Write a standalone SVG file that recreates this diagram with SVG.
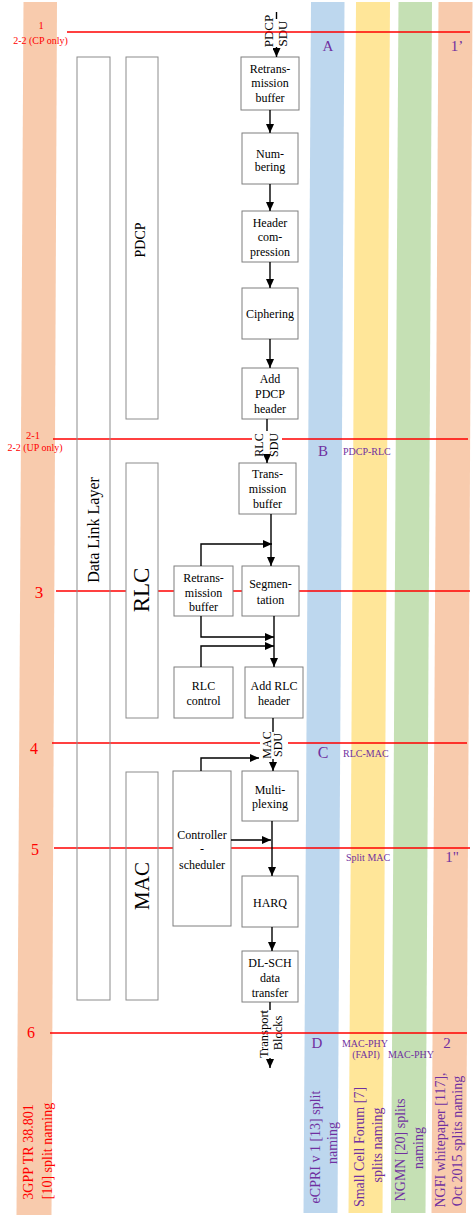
<svg xmlns="http://www.w3.org/2000/svg" width="474" height="1219" viewBox="0 0 474 1219">
<defs>
<style>
.t{font-family:"Liberation Serif","Times New Roman",serif;fill:#000}
.bx{fill:#fff;stroke:#7f7f7f;stroke-width:1}
.ly{fill:none;stroke:#8c8c8c;stroke-width:1}
.red{stroke:#ff0000;stroke-width:1.6;fill:none}
.rt{font-family:"Liberation Serif","Times New Roman",serif;fill:#ff0000}
.pt{font-family:"Liberation Serif","Times New Roman",serif;fill:#7030a0}
.c{stroke:#000;stroke-width:1.4;fill:none}
.a{marker-end:url(#ah)}
</style>
<marker id="ah" markerUnits="userSpaceOnUse" markerWidth="10" markerHeight="8" refX="9" refY="4" orient="auto">
<path d="M0,0 L9,4 L0,8 z" fill="#000"/>
</marker>
</defs>
<rect width="474" height="1219" fill="#fff"/>
<g id="bands">
<polygon points="23.5,2 57,2 51.5,1215 16.5,1215" fill="#f8cbad"/>
<polygon points="311,2 344.5,2 337.5,1213 303.5,1213" fill="#bdd7ee"/>
<polygon points="356,2 390,2 382.5,1213 348.5,1213" fill="#ffe699"/>
<polygon points="398.5,2 432,2 425.5,1213 391,1213" fill="#c5e0b4"/>
<polygon points="438.5,2 472.5,2 466,1213 431.5,1213" fill="#f8cbad"/>
</g>
<g id="band-labels">
<text class="rt" font-size="14" text-anchor="middle" transform="translate(32.5,1152) rotate(-90)">3GPP TR 38.801</text>
<text class="rt" font-size="14" text-anchor="middle" transform="translate(51.5,1151) rotate(-90)">[10] split naming</text>
<text class="pt" font-size="14" text-anchor="middle" transform="translate(319.5,1147) rotate(-90)">eCPRI v 1 [13] split</text>
<text class="pt" font-size="14" text-anchor="middle" transform="translate(336.5,1143) rotate(-90)">naming</text>
<text class="pt" font-size="14" text-anchor="middle" transform="translate(363.5,1147) rotate(-90)">Small Cell Forum [7]</text>
<text class="pt" font-size="14" text-anchor="middle" transform="translate(381.5,1145) rotate(-90)">splits naming</text>
<text class="pt" font-size="14" text-anchor="middle" transform="translate(404.5,1150) rotate(-90)">NGMN [20] splits</text>
<text class="pt" font-size="14" text-anchor="middle" transform="translate(422.5,1148) rotate(-90)">naming</text>
<text class="pt" font-size="14" text-anchor="middle" transform="translate(444.5,1140) rotate(-90)">NGFI whitepaper [117],</text>
<text class="pt" font-size="14" text-anchor="middle" transform="translate(461.5,1141) rotate(-90)">Oct 2015 splits naming</text>
</g>
<g id="split-labels">
<text class="rt" font-size="10.5" text-anchor="middle" x="41" y="29">1</text>
<text class="rt" font-size="10" text-anchor="middle" x="40.5" y="43.5">2-2 (CP only)</text>
<text class="rt" font-size="10.5" text-anchor="middle" x="33" y="438.5">2-1</text>
<text class="rt" font-size="10" text-anchor="middle" x="35" y="450.5">2-2 (UP only)</text>
<text class="rt" font-size="17" text-anchor="middle" x="39" y="598">3</text>
<text class="rt" font-size="16" text-anchor="middle" x="34" y="754">4</text>
<text class="rt" font-size="16" text-anchor="middle" x="35" y="855">5</text>
<text class="rt" font-size="16" text-anchor="middle" x="31" y="1038">6</text>
<text class="pt" font-size="15" text-anchor="middle" x="328" y="51">A</text>
<text class="pt" font-size="15" text-anchor="middle" x="457" y="51">1’</text>
<text class="pt" font-size="15" text-anchor="middle" x="323" y="456">B</text>
<text class="pt" font-size="10" x="343" y="455">PDCP-RLC</text>
<text class="pt" font-size="16" text-anchor="middle" x="323" y="758">C</text>
<text class="pt" font-size="10" x="343" y="757">RLC-MAC</text>
<text class="pt" font-size="10" x="346" y="861">Split MAC</text>
<text class="pt" font-size="15" text-anchor="middle" x="452" y="862">1"</text>
<text class="pt" font-size="15" text-anchor="middle" x="317" y="1048">D</text>
<text class="pt" font-size="10" text-anchor="middle" x="365" y="1047">MAC-PHY</text>
<text class="pt" font-size="10" text-anchor="middle" x="366" y="1058">(FAPI)</text>
<text class="pt" font-size="10" text-anchor="middle" x="411" y="1058">MAC-PHY</text>
<text class="pt" font-size="15" text-anchor="middle" x="447" y="1048">2</text>
</g>
<g id="sdu-labels-under">
<text class="t" font-size="13" text-anchor="middle" transform="translate(272.5,31) rotate(-90)">PDCP</text>
<text class="t" font-size="13" text-anchor="middle" transform="translate(286.5,33.5) rotate(-90)">SDU</text>
<text class="t" font-size="12.5" text-anchor="middle" transform="translate(268,1034) rotate(-90)">Transport</text>
<text class="t" font-size="12.5" text-anchor="middle" transform="translate(282,1033) rotate(-90)">Blocks</text>
</g>
<g id="split-lines">
<line class="red" x1="67" y1="32" x2="470" y2="32"/>
<line class="red" x1="53" y1="439" x2="252" y2="439"/>
<line class="red" x1="282" y1="439" x2="468" y2="439"/>
<line class="red" x1="56" y1="591" x2="470" y2="591"/>
<line class="red" x1="52" y1="743" x2="260" y2="743"/>
<line class="red" x1="288" y1="743" x2="467" y2="743"/>
<line class="red" x1="54" y1="848" x2="470" y2="848"/>
<line class="red" x1="50" y1="1033" x2="467" y2="1033"/>
</g>
<g id="layers">
<rect id="dll" class="ly" x="77" y="57" width="33" height="943"/>
<text class="t" font-size="16" text-anchor="middle" transform="translate(98.5,530) rotate(-90)">Data Link Layer</text>
<rect id="pdcp" class="ly" x="126" y="57" width="32" height="362"/>
<text class="t" font-size="14" text-anchor="middle" transform="translate(145,240) rotate(-90)">PDCP</text>
<rect id="rlc" class="ly" fill="#fff" style="fill:#fff" x="126" y="463" width="32" height="255"/>
<text class="t" font-size="23" text-anchor="middle" transform="translate(149,590) rotate(-90)">RLC</text>
<rect id="mac" class="ly" x="126" y="772" width="32" height="228"/>
<text class="t" font-size="21" text-anchor="middle" transform="translate(149,886) rotate(-90)">MAC</text>
</g>
<g id="n-retx-pdcp"><rect class="bx" x="241" y="57" width="58" height="53"/>
<text class="t" font-size="12" text-anchor="middle" x="270" y="73">Retrans-</text><text class="t" font-size="12" text-anchor="middle" x="270" y="87">mission</text><text class="t" font-size="12" text-anchor="middle" x="270" y="101.5">buffer</text></g>
<g id="n-numbering"><rect class="bx" x="242" y="133" width="56" height="51"/>
<text class="t" font-size="12" text-anchor="middle" x="270" y="157.5">Num-</text><text class="t" font-size="12" text-anchor="middle" x="270" y="170.5">bering</text></g>
<g id="n-header-comp"><rect class="bx" x="242" y="211" width="56" height="51"/>
<text class="t" font-size="12" text-anchor="middle" x="270" y="226.5">Header</text><text class="t" font-size="12" text-anchor="middle" x="270" y="241">com-</text><text class="t" font-size="12" text-anchor="middle" x="270" y="255.5">pression</text></g>
<g id="n-ciphering"><rect class="bx" x="242" y="288" width="56" height="51"/>
<text class="t" font-size="12" text-anchor="middle" x="270" y="317.5">Ciphering</text></g>
<g id="n-add-pdcp"><rect class="bx" x="242" y="368" width="56" height="51"/>
<text class="t" font-size="12" text-anchor="middle" x="270" y="382.5">Add</text><text class="t" font-size="12" text-anchor="middle" x="270" y="397.5">PDCP</text><text class="t" font-size="12" text-anchor="middle" x="270" y="412.5">header</text></g>
<g id="n-tx-buffer"><rect class="bx" x="239" y="463" width="57" height="51"/>
<text class="t" font-size="12" text-anchor="middle" x="267.5" y="477.5">Trans-</text><text class="t" font-size="12" text-anchor="middle" x="267.5" y="493">mission</text><text class="t" font-size="12" text-anchor="middle" x="267.5" y="507.5">buffer</text></g>
<g id="n-retx-rlc"><rect class="bx" x="174" y="566" width="59" height="50"/>
<text class="t" font-size="12" text-anchor="middle" x="203.5" y="581.5">Retrans-</text><text class="t" font-size="12" text-anchor="middle" x="203.5" y="596.5">mission</text><text class="t" font-size="12" text-anchor="middle" x="203.5" y="610.5">buffer</text></g>
<g id="n-segmentation"><rect class="bx" x="242" y="566" width="57" height="50"/>
<text class="t" font-size="12" text-anchor="middle" x="270.5" y="587.5">Segmen-</text><text class="t" font-size="12" text-anchor="middle" x="270.5" y="603.5">tation</text></g>
<g id="n-rlc-control"><rect class="bx" x="174" y="667" width="59" height="51"/>
<text class="t" font-size="12" text-anchor="middle" x="203.5" y="689.5">RLC</text><text class="t" font-size="12" text-anchor="middle" x="203.5" y="704.5">control</text></g>
<g id="n-add-rlc"><rect class="bx" x="245" y="667" width="58" height="51"/>
<text class="t" font-size="12" text-anchor="middle" x="274" y="689.5">Add RLC</text><text class="t" font-size="12" text-anchor="middle" x="274" y="704.5">header</text></g>
<g id="n-multiplexing"><rect class="bx" x="242" y="771" width="56" height="50"/>
<text class="t" font-size="12" text-anchor="middle" x="270" y="793.5">Multi-</text><text class="t" font-size="12" text-anchor="middle" x="270" y="807.5">plexing</text></g>
<g id="n-controller"><rect class="bx" x="173" y="771" width="58" height="155"/>
<text class="t" font-size="12" text-anchor="middle" x="202" y="838.5">Controller</text><text class="t" font-size="12" text-anchor="middle" x="202" y="852.5">-</text><text class="t" font-size="12" text-anchor="middle" x="202" y="868.5">scheduler</text></g>
<g id="n-harq"><rect class="bx" x="242" y="876" width="56" height="51"/>
<text class="t" font-size="12" text-anchor="middle" x="270" y="906.5">HARQ</text></g>
<g id="n-dlsch"><rect class="bx" x="242" y="951" width="56" height="51"/>
<text class="t" font-size="12" text-anchor="middle" x="270" y="966.5">DL-SCH</text><text class="t" font-size="12" text-anchor="middle" x="270" y="981.5">data</text><text class="t" font-size="12" text-anchor="middle" x="270" y="996.5">transfer</text></g>
<g id="connectors">
<line class="c" x1="276.5" y1="12" x2="276.5" y2="19"/>
<line class="c a" x1="276.5" y1="47" x2="276.5" y2="57"/>
<line class="c a" x1="270" y1="110" x2="270" y2="133"/>
<line class="c a" x1="270" y1="184" x2="270" y2="211"/>
<line class="c a" x1="270" y1="262" x2="270" y2="288"/>
<line class="c a" x1="270" y1="339" x2="270" y2="368"/>
<line class="c" x1="267" y1="419" x2="267" y2="431"/>
<line class="c a" x1="267" y1="457" x2="267" y2="463"/>
<line class="c a" x1="271" y1="514" x2="271" y2="566"/>
<path class="c a" d="M201,566 V544 H272"/>
<line class="c a" x1="274" y1="616" x2="274" y2="667"/>
<path class="c a" d="M201,616 V637 H274"/>
<path class="c a" d="M201,667 V646 H274"/>
<line class="c" x1="273" y1="718" x2="273" y2="732"/>
<line class="c a" x1="273" y1="759" x2="273" y2="771"/>
<path class="c a" d="M201,771 V758 H259"/>
<line class="c a" x1="231" y1="840" x2="271" y2="840"/>
<line class="c a" x1="272" y1="821" x2="272" y2="876"/>
<line class="c a" x1="272" y1="927" x2="272" y2="951"/>
<line class="c" x1="270" y1="1002" x2="270" y2="1010"/>
<line class="c a" x1="270" y1="1058" x2="270" y2="1068"/>
</g>
<g id="sdu-labels-over">
<text class="t" font-size="12" text-anchor="middle" transform="translate(263,445) rotate(-90)">RLC</text>
<text class="t" font-size="12" text-anchor="middle" transform="translate(277.5,445) rotate(-90)">SDU</text>
<text class="t" font-size="12" text-anchor="middle" transform="translate(271,745) rotate(-90)">MAC</text>
<text class="t" font-size="12" text-anchor="middle" transform="translate(282,745) rotate(-90)">SDU</text>
</g>
</svg>
